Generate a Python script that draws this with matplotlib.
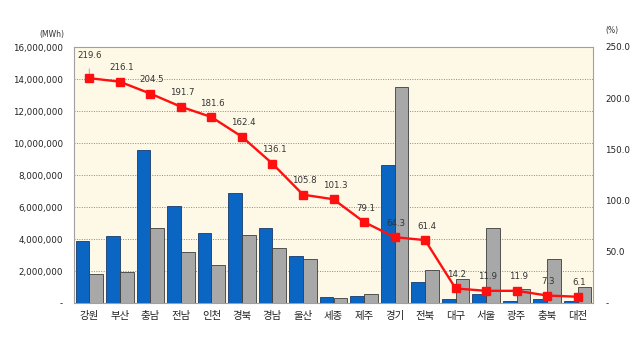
import numpy as np
import matplotlib.pyplot as plt
from matplotlib.ticker import FuncFormatter

plt.rcParams['font.family'] = ['DejaVu Sans']

regions = ['강원', '부산', '충남', '전남', '인천', '경북', '경남', '울산', '세종',
           '제주', '경기', '전북', '대구', '서울', '광주', '충북', '대전']

# power generation / consumption (MWh)
generation = [3860000, 4170000, 9560000, 6080000, 4350000, 6850000, 4670000, 2940000,
              360000, 460000, 8600000, 1290000, 230000, 580000, 120000, 230000, 100000]
consumption = [1790000, 1920000, 4670000, 3170000, 2400000, 4230000, 3420000, 2770000,
               340000, 580000, 13480000, 2040000, 1480000, 4690000, 860000, 2770000, 980000]

# self-sufficiency ratio (%)
ratio = [219.6, 216.1, 204.5, 191.7, 181.6, 162.4, 136.1, 105.8, 101.3,
         79.1, 64.3, 61.4, 14.2, 11.9, 11.9, 7.3, 6.1]

fig = plt.figure(figsize=(6.4, 3.48), dpi=100)
ax = fig.add_axes([74 / 640, 45 / 348, 519 / 640, 256 / 348])
ax.set_facecolor('#fdf9e6')

x = np.arange(len(regions))
w = 0.45
ax.bar(x - w / 2, generation, w, color='#0a66c2', edgecolor='#1a3a6a', linewidth=0.6, zorder=3)
ax.bar(x + w / 2, consumption, w, color='#a8a8a8', edgecolor='#3c3c3c', linewidth=0.6, zorder=3)

ax.set_xlim(-0.5, len(regions) - 0.5)
ax.set_ylim(0, 16000000)
ax.set_yticks(np.arange(0, 16000001, 2000000))
ax.yaxis.set_major_formatter(FuncFormatter(lambda v, p: '-' if v == 0 else f'{int(v):,}'))
ax.grid(axis='y', color='#8a8a8a', linestyle=(0, (1, 1.5)), linewidth=0.7, zorder=0)
ax.set_axisbelow(True)
ax.set_xticks(x)
ax.set_xticklabels(regions, family=['Noto Sans CJK KR', 'DejaVu Sans'], fontsize=7.5,
                   color='#222222')
ax.tick_params(axis='x', length=0, pad=6)
ax.tick_params(axis='y', length=0, pad=8, labelsize=6.3, labelcolor='#222222')
for s in ax.spines.values():
    s.set_color('#a0a0a0')
    s.set_linewidth(0.8)

ax2 = ax.twinx()
ax2.plot(x, ratio, color='#ff1010', lw=1.7, marker='s', ms=5.8, zorder=5)
ax2.set_ylim(0, 250)
ax2.set_yticks([0, 50, 100, 150, 200, 250])
ax2.yaxis.set_major_formatter(FuncFormatter(lambda v, p: '-' if v == 0 else f'{v:.1f}'))
ax2.tick_params(axis='y', length=0, pad=9, labelsize=6.3, labelcolor='#222222')
for s in ax2.spines.values():
    s.set_visible(False)

for i, r in enumerate(ratio):
    if i == 0:
        ax2.annotate(f'{r}', (x[i], r), xytext=(0, 16), textcoords='offset points',
                     ha='center', va='center', fontsize=6.2, color='#333333',
                     arrowprops=dict(arrowstyle='-', color='#999999', lw=0.6,
                                     shrinkA=4, shrinkB=3))
    else:
        ax2.annotate(f'{r}', (x[i], r), xytext=(1, 10), textcoords='offset points',
                     ha='center', va='center', fontsize=6.2, color='#333333')

fig.text(52 / 640, 1 - 34 / 348, '(MWh)', ha='center', va='center', fontsize=5.5, color='#333333')
fig.text(612 / 640, 1 - 31 / 348, '(%)', ha='center', va='center', fontsize=5.5, color='#333333')

fig.savefig('out.png', dpi=100)
